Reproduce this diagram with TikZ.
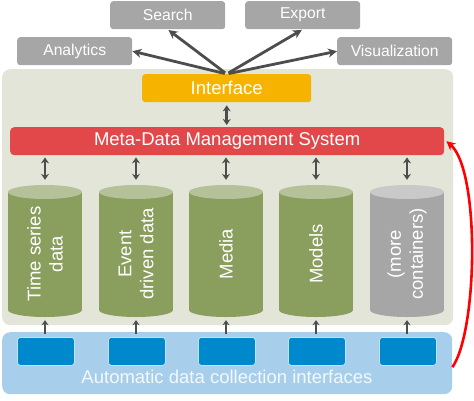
\documentclass[tikz,border=0pt]{standalone}
\usepackage{fontspec}
\setmainfont{Liberation Sans}
\usetikzlibrary{arrows.meta}
\definecolor{boxgray}{HTML}{A6A6A6}
\definecolor{panelgreen}{HTML}{E2E5D7}
\definecolor{ifaceorange}{HTML}{F6B400}
\definecolor{mdmsred}{HTML}{E2474A}
\definecolor{cylgreen}{HTML}{8A9E5E}
\definecolor{cyltop}{HTML}{B5C299}
\definecolor{cylgray}{HTML}{A6A6A6}
\definecolor{cylgraytop}{HTML}{C9C9C9}
\definecolor{panelblue}{HTML}{A7CFEC}
\definecolor{boxblue}{HTML}{0088CC}
\definecolor{boxblueedge}{HTML}{BDE3F7}
\definecolor{arrgray}{HTML}{4D4D4D}
\newcommand\mycyl[5]{%
  \fill[#3] (#2,310) ellipse [x radius=37pt, y radius=7pt];
  \fill[#3] (#2-37,192) rectangle (#2+37,310);
  \fill[#4] (#2,192) ellipse [x radius=37pt, y radius=7pt];
  \node[cylnode] (#1) at (#2,251) {};
  \node[cyltext] (#1t) at (#2,254) {#5};
}
\begin{document}
\begin{tikzpicture}[x=1pt,y=-1pt,
  smallfont/.style={font=\fontsize{15.7pt}{18pt}\selectfont},
  bigfont/.style={font=\fontsize{18.5pt}{22pt}\selectfont},
  graybox/.style={fill=boxgray, rounded corners=3pt, text=white, smallfont,
    minimum width=115pt, minimum height=28pt, inner sep=0pt, anchor=north west},
  panel/.style={rounded corners=8pt, inner sep=0pt, anchor=north west},
  cylnode/.style={minimum width=74pt, minimum height=132pt, inner sep=0pt},
  cyltext/.style={rotate=90, align=center, text=white, bigfont, inner sep=0pt},
  collbox/.style={fill=boxblue, draw=boxblueedge, line width=0.8pt, rounded corners=3pt,
    minimum width=57pt, minimum height=28pt, inner sep=0pt, anchor=north west},
  arr/.style={draw=arrgray, line width=2.8pt, -{Stealth[length=9pt,width=9pt]}},
  dbl/.style={draw=arrgray, line width=2.8pt, {Stealth[length=6pt,width=8pt]}-{Stealth[length=6pt,width=8pt]}},
  uparr/.style={draw=arrgray, line width=2.4pt, -{Stealth[length=5pt,width=7pt]}}
]
\useasboundingbox (0,0) rectangle (474,400);

% top boxes
\node[graybox] (search) at (110,1) {Search};
\node[graybox] (export) at (245,1) {Export};
\node[graybox] (analytics) at (17,37) {Analytics};
\node[graybox] (visual) at (337,37) {Visualization};

% green panel
\node[panel, fill=panelgreen, minimum width=451pt, minimum height=256pt] (gpanel) at (2,69) {};

% interface
\node[fill=ifaceorange, rounded corners=3pt, text=white, bigfont, minimum width=169pt,
  minimum height=28pt, inner sep=0pt, anchor=north west] (iface) at (142,74) {Interface};

% MDMS
\node[fill=mdmsred, rounded corners=4pt, text=white, bigfont, minimum width=434pt,
  minimum height=28pt, inner sep=0pt, anchor=north west] (mdms) at (10,127) {Meta-Data Management System};

% arrows to top boxes
\draw[arr, shorten <=2pt] (iface.north) -- (analytics.east);
\draw[arr, shorten <=2pt, shorten >=1pt] (iface.north) -- (search.south);
\draw[arr, shorten <=2pt, shorten >=1pt] (iface.north) -- (export.south);
\draw[arr, shorten <=2pt] (iface.north) -- (visual.west);

\draw[dbl, shorten <=3pt, shorten >=2pt] (iface.south) -- (mdms.north -| iface.south);

% cylinders
\mycyl{c1}{45}{cylgreen}{cyltop}{Time series\\data}
\mycyl{c2}{136}{cylgreen}{cyltop}{Event\\driven data}
\mycyl{c3}{226}{cylgreen}{cyltop}{Media}
\mycyl{c4}{316}{cylgreen}{cyltop}{Models}
\mycyl{c5}{407}{cylgray}{cylgraytop}{(more\\containers)}

\foreach \c in {c1,c2,c3,c4,c5}{
  \draw[dbl, shorten <=2pt, shorten >=5pt] (mdms.south -| \c.north) -- (\c.north);
}

% blue panel
\node[panel, fill=panelblue, minimum width=450pt, minimum height=62pt] (bpanel) at (2,332) {};
\node[collbox] (b1) at (17,337) {};
\node[collbox] (b2) at (108,337) {};
\node[collbox] (b3) at (198,337) {};
\node[collbox] (b4) at (288,337) {};
\node[collbox] (b5) at (379,337) {};
\node[bigfont, text=white!85!panelblue, inner sep=0pt] (colltext) at (227,377) {Automatic data collection interfaces};

\draw[uparr, shorten <=3pt, shorten >=3pt] (b1.north -| c1.south) -- (c1.south);
\draw[uparr, shorten <=3pt, shorten >=3pt] (b2.north -| c2.south) -- (c2.south);
\draw[uparr, shorten <=3pt, shorten >=3pt] (b3.north -| c3.south) -- (c3.south);
\draw[uparr, shorten <=3pt, shorten >=3pt] (b4.north -| c4.south) -- (c4.south);
\draw[uparr, shorten <=3pt, shorten >=3pt] (b5.north -| c5.south) -- (c5.south);

% red feedback arrow
\draw[red, line width=2.6pt, -{Stealth[length=9pt,width=9pt]}]
  ([yshift=-4pt]bpanel.east) .. controls (478,330) and (480,170) .. ([xshift=2pt]mdms.east);
\end{tikzpicture}
\end{document}
